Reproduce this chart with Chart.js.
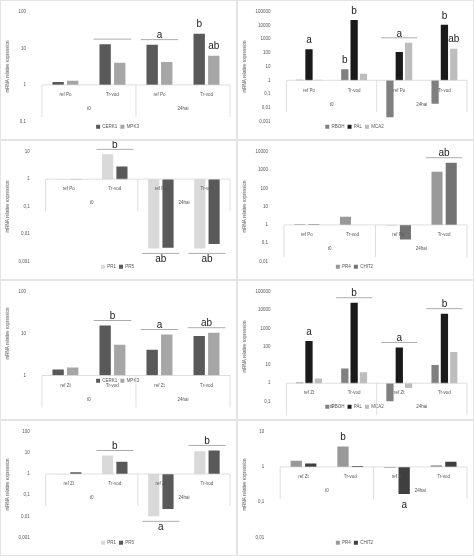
<!DOCTYPE html>
<html><head><meta charset="utf-8">
<script src="https://cdn.jsdelivr.net/npm/chart.js@4/dist/chart.umd.min.js"></script>
<style>
body{margin:0;background:#fff;font-family:"Liberation Sans",Arial,sans-serif}
#grid{display:grid;grid-template-columns:237px 237px;grid-template-rows:140px 140px 140px 136px;width:474px}
.cell{position:relative;border:1px solid #e4e4e4;box-sizing:border-box}
</style></head><body>
<div id="grid">
<div class="cell"><canvas id="c1"></canvas></div><div class="cell"><canvas id="c2"></canvas></div>
<div class="cell"><canvas id="c3"></canvas></div><div class="cell"><canvas id="c4"></canvas></div>
<div class="cell"><canvas id="c5"></canvas></div><div class="cell"><canvas id="c6"></canvas></div>
<div class="cell"><canvas id="c7"></canvas></div><div class="cell"><canvas id="c8"></canvas></div>
</div>
<script>
// DATA
const groups = ['t0', '24hai'];
const catsPo = ['ref Po', 'Tr-vod', 'ref Po', 'Tr-vod'];
const catsZt = ['ref Zt', 'Tr-vod', 'ref Zt', 'Tr-vod'];

const cerk1Po = [1.2, 13, 12.6, 25];
const mpk3Po = [1.3, 4, 4.2, 6.3];
const rbohPo = [1.1, 6.3, 0.002, 0.02];
const palPo = [185, 25000, 115, 11000];
const mca2Po = [1.1, 3, 540, 200];
const pr1Po = [0.97, 8, 0.003, 0.003];
const pr5Po = [1.02, 2.9, 0.0032, 0.0043];
const pr4Po = [1.1, 2.8, 0.95, 800];
const chit2Po = [1.1, 1.0, 0.16, 2500];

const cerk1Zt = [1.4, 15.6, 4.1, 8.8];
const mpk3Zt = [1.55, 5.4, 9.5, 10.5];
const rbohZt = [1.1, 6.3, 0.1, 10];
const palZt = [200, 25000, 90, 6300];
const mca2Zt = [1.8, 4, 0.55, 50];
const pr1Zt = [0.98, 7.5, 0.01, 12];
const pr5Zt = [1.2, 3.8, 0.022, 13];
const pr4Zt = [1.5, 3.8, 0.95, 1.12];
const chit2Zt = [1.26, 1.06, 0.17, 1.4];

// annotations: [category, dataset (-1 = whole group line), text, 'up'|'down']
const ann1 = [[1, -1, '', 'up'], [2, -1, 'a', 'up'], [3, 0, 'b', 'up'], [3, 1, 'ab', 'up']];
const ann2 = [[0, 1, 'a', 'up'], [1, 0, 'b', 'up'], [1, 1, 'b', 'up'], [2, -1, 'a', 'up'], [3, 1, 'b', 'up'], [3, 2, 'ab', 'up']];
const ann3 = [[1, -1, 'b', 'up'], [2, -1, 'ab', 'down'], [3, -1, 'ab', 'down']];
const ann4 = [[3, -1, 'ab', 'up']];
const ann5 = [[1, -1, 'b', 'up'], [2, -1, 'a', 'up'], [3, -1, 'ab', 'up']];
const ann6 = [[0, 1, 'a', 'up'], [1, -1, 'b', 'up'], [2, -1, 'a', 'up'], [3, -1, 'b', 'up']];
const ann7 = [[1, -1, 'b', 'up'], [2, -1, 'a', 'down'], [3, -1, 'b', 'up']];
const ann8 = [[1, 0, 'b', 'up'], [2, 1, 'a', 'down']];

const fmt = v => String(v).replace('.', ',');

// PLUGIN: category axis drawn at y = 1, group labels, letters
const excelAxis = {
    id: 'excelAxis',
    afterDatasetsDraw(chart) {
        const { ctx, scales: { x, y } } = chart;
        const y1 = y.getPixelForValue(1);
        const n = chart.data.labels.length;
        const step = (x.getPixelForValue(1) - x.getPixelForValue(0));
        const left = x.getPixelForValue(0) - step / 2;
        const right = x.getPixelForValue(n - 1) + step / 2;
        ctx.save();
        ctx.strokeStyle = '#d0d0d0';
        ctx.lineWidth = 0.7;
        ctx.beginPath();
        ctx.moveTo(left, y1); ctx.lineTo(right, y1);
        [0, n / 2, n].forEach(i => {
            const px = left + i * step;
            ctx.moveTo(px, y1); ctx.lineTo(px, y1 + 32);
        });
        ctx.stroke();
        ctx.fillStyle = '#555';
        ctx.font = '4.5px "Liberation Sans"';
        ctx.textAlign = 'center';
        chart.data.labels.forEach((l, i) => ctx.fillText(l, x.getPixelForValue(i), y1 + 10));
        groups.forEach((g, i) => ctx.fillText(g, left + (i * 2 + 1) * step, y1 + 24));

        const ann = chart.options.plugins.excelAxis.ann;
        ctx.fillStyle = '#222';
        ctx.font = '10px "Liberation Sans"';
        ann.forEach(([c, d, t, dir]) => {
            const metas = chart.data.datasets.map((_, k) => chart.getDatasetMeta(k).data[c]);
            const els = d < 0 ? metas : [metas[d]];
            const yy = dir === 'up'
                ? Math.min(...els.map(e => Math.min(e.y, e.base))) - 5
                : Math.max(...els.map(e => Math.max(e.y, e.base))) + 5;
            if (d < 0) {
                ctx.strokeStyle = '#888';
                ctx.beginPath();
                ctx.moveTo(x.getPixelForValue(c) - step * 0.4, yy);
                ctx.lineTo(x.getPixelForValue(c) + step * 0.4, yy);
                ctx.stroke();
            }
            ctx.textBaseline = dir === 'up' ? 'bottom' : 'top';
            ctx.fillText(t, d < 0 ? x.getPixelForValue(c) : els[0].x, yy + 1);
        });
        ctx.restore();
    }
};

function makePanel(id, labels, series, min, max, ann, padBottom) {
    const ticks = [];
    for (let v = max; v >= min * 0.999; v /= 10) ticks.push(+v.toPrecision(1));
    new Chart(document.getElementById(id), {
        type: 'bar',
        data: {
            labels: labels,
            datasets: series.map(s => ({
                label: s.name,
                data: s.values.map(v => [1, v]),
                backgroundColor: s.color,
                borderWidth: 0,
                categoryPercentage: 0.62,
                barPercentage: 0.78
            }))
        },
        plugins: [excelAxis],
        options: {
            responsive: false,
            animation: false,
            layout: { padding: { left: 4, right: 6, top: 6, bottom: padBottom || 0 } },
            plugins: {
                excelAxis: { ann: ann },
                tooltip: { enabled: false },
                legend: {
                    position: 'bottom',
                    labels: { boxWidth: 4, boxHeight: 4, padding: 3, font: { size: 4.5 }, color: '#555' }
                }
            },
            scales: {
                x: { display: false, offset: true },
                y: {
                    type: 'logarithmic', min: min, max: max,
                    grid: { display: false },
                    border: { display: false },
                    afterBuildTicks: ax => { ax.ticks = ticks.map(v => ({ value: v })); },
                    ticks: { callback: v => fmt(v), font: { size: 4.5 }, color: '#555', padding: 8 },
                    title: { display: true, text: 'mRNA relative expression', font: { size: 4.5 }, color: '#555', padding: 0 }
                }
            }
        }
    });
}

const gCERK1 = '#595959', gMPK3 = '#a6a6a6', gRBOH = '#808080', gPAL = '#1a1a1a', gMCA2 = '#bdbdbd';
const gPR1 = '#d9d9d9', gPR5 = '#595959', gPR4 = '#999999', gCHIT2 = '#737373';

document.querySelectorAll('canvas').forEach((c, i) => { c.width = 235; c.height = i >= 6 ? 134 : 138; });

makePanel('c1', catsPo, [{ name: 'CERK1', values: cerk1Po, color: gCERK1 }, { name: 'MPK3', values: mpk3Po, color: gMPK3 }], 0.1, 100, ann1);
makePanel('c2', catsPo, [{ name: 'RBOH', values: rbohPo, color: gRBOH }, { name: 'PAL', values: palPo, color: gPAL }, { name: 'MCA2', values: mca2Po, color: gMCA2 }], 0.001, 100000, ann2);
makePanel('c3', catsPo, [{ name: 'PR1', values: pr1Po, color: gPR1 }, { name: 'PR5', values: pr5Po, color: gPR5 }], 0.001, 10, ann3);
makePanel('c4', catsPo, [{ name: 'PR4', values: pr4Po, color: gPR4 }, { name: 'CHIT2', values: chit2Po, color: gCHIT2 }], 0.01, 10000, ann4);
makePanel('c5', catsZt, [{ name: 'CERK1', values: cerk1Zt, color: gCERK1 }, { name: 'MPK3', values: mpk3Zt, color: gMPK3 }], 1, 100, ann5, 26);
makePanel('c6', catsZt, [{ name: 'RBOH', values: rbohZt, color: gRBOH }, { name: 'PAL', values: palZt, color: gPAL }, { name: 'MCA2', values: mca2Zt, color: gMCA2 }], 0.1, 100000, ann6);
makePanel('c7', catsZt, [{ name: 'PR1', values: pr1Zt, color: gPR1 }, { name: 'PR5', values: pr5Zt, color: gPR5 }], 0.001, 100, ann7);
makePanel('c8', catsZt, [{ name: 'PR4', values: pr4Zt, color: gPR4 }, { name: 'CHIT2', values: chit2Zt, color: '#3f3f3f' }], 0.01, 10, ann8);
</script>
</body></html>
